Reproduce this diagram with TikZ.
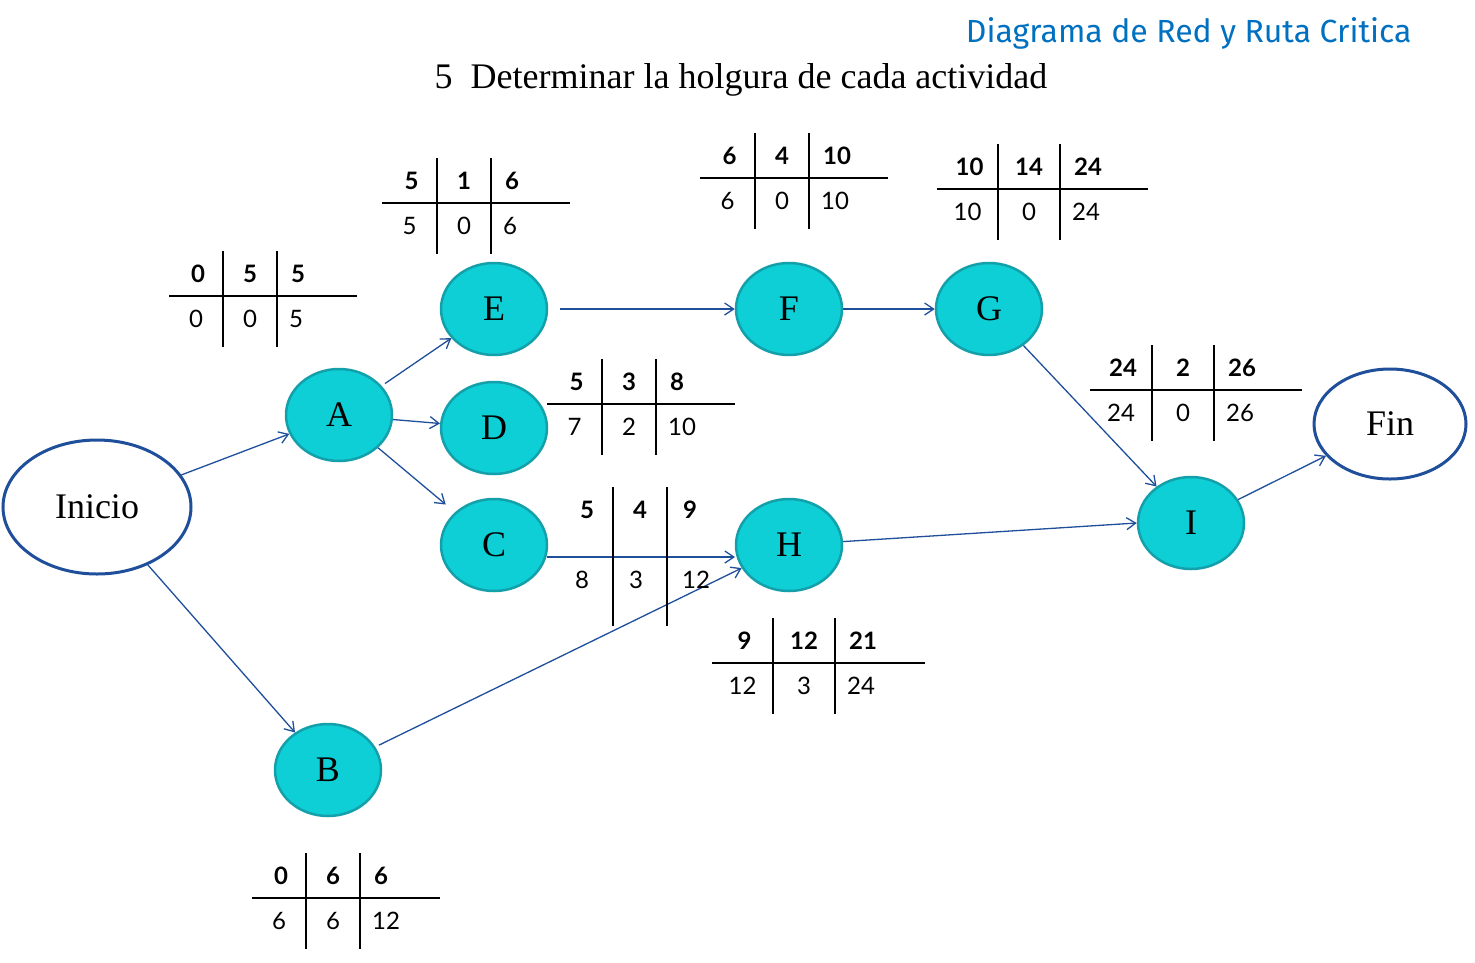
\documentclass[tikz,border=0pt]{standalone}
\usepackage{fontspec}
\setmainfont{Liberation Serif}
\newfontfamily\numfont{Lato}
\newfontfamily\titfont{Fira Sans}
\usetikzlibrary{shapes.geometric,arrows.meta}
\definecolor{nodefill}{RGB}{14,206,214}
\definecolor{nodeline}{RGB}{20,160,170}
\definecolor{arrowc}{RGB}{31,78,155}
\definecolor{titc}{RGB}{0,112,192}
\tikzset{
 act/.style={ellipse,fill=nodefill,draw=nodeline,line width=2.5pt,minimum width=106pt,minimum height=92pt,inner sep=0,font=\fontsize{36}{40}\selectfont},
 term/.style={ellipse,fill=white,draw=arrowc,line width=3pt,inner sep=0,font=\fontsize{36}{40}\selectfont},
 con/.style={draw=arrowc,line width=1.3pt,-{Straight Barb[length=9pt,width=12pt]}},
 tl/.style={line width=1.3pt},
 num/.style={font=\numfont\fontsize{24}{26}\selectfont,inner sep=0},
 bnum/.style={num,font=\numfont\bfseries\fontsize{24}{26}\selectfont}
}
% name, L, hy, v1, v2, R, a,b,c, d,e,f
\newcommand{\tbl}[9]{%
 \draw[tl] (#2,#3) -- (#6,#3);
 \draw[tl] (#4,#3-45) -- (#4,#3+51);
 \draw[tl] (#5,#3-45) -- (#5,#3+51);
 \tblrow{#1}{#2}{#3}{#4}{#5}{#7}{#8}{#9}}
\newcommand{\tblrow}[8]{%
 \node[bnum] (#1a) at ({(#2+#4)/2+2},#3-22) {#6};
 \node[bnum] (#1b) at ({(#4+#5)/2},#3-22) {#7};
 \node[bnum,anchor=west] (#1c) at (#5+14,#3-22) {#8};
 \tblbot{#1}{#2}{#3}{#4}{#5}}
\newcommand{\tblbot}[5]{\def\tn{#1}\def\tL{#2}\def\thy{#3}\def\tva{#4}\def\tvb{#5}\tblbotb}
\newcommand{\tblbotb}[3]{%
 \node[num] (\tn d) at ({(\tL+\tva)/2},\thy+23) {#1};
 \node[num] (\tn e) at ({(\tva+\tvb)/2},\thy+23) {#2};
 \node[num,anchor=west] (\tn f) at (\tvb+12,\thy+23) {#3};}
\begin{document}
\begin{tikzpicture}[x=1pt,y=-1pt]
\useasboundingbox (0,0) rectangle (1475,962);
\node[font=\titfont\fontsize{32}{34}\selectfont,text=titc,anchor=east] (tit) at (1415,33) {Diagrama de Red y Ruta Critica};
\node[font=\fontsize{36}{40}\selectfont] (sub) at (741,80) {5\ \ Determinar la holgura de cada actividad};
\node[term,minimum width=188pt,minimum height=134pt] (ini) at (97,507) {Inicio};
\node[term,minimum width=152pt,minimum height=110pt] (fin) at (1390,424) {Fin};
\node[act] (A) at (339,415) {A};
\node[act] (E) at (494,309) {E};
\node[act] (D) at (494,428) {D};
\node[act] (C) at (494,545) {C};
\node[act] (F) at (789,309) {F};
\node[act] (G) at (989,309) {G};
\node[act] (H) at (789,545) {H};
\node[act] (I) at (1191,523) {I};
\node[act] (B) at (328,770) {B};
\coordinate (ca1) at (547,557);
\coordinate (ca2) at (735,557);
\draw[con] (ini) -- (A);
\draw[con] (ini) -- (B);
\draw[con,shorten <=4pt] (A) -- (E);
\draw[con] (A) -- (D);
\draw[con,shorten >=12pt] (A) -- (C);
\draw[con,shorten <=12pt] (E) -- (F);
\draw[con] (F) -- (G);
\draw[con] (G) -- (I);
\draw[con] (ca1) -- (ca2);
\draw[con,shorten <=4pt] (B) -- (H);
\draw[con] (H) -- (I.west);
\draw[con] (I) -- (fin);
\tbl{tA}{169}{296}{223}{277}{357}{0}{5}{5}{0}{0}{5}
\tbl{tE}{382}{203}{437}{491}{570}{5}{1}{6}{5}{0}{6}
\tbl{tF}{700}{178}{755}{809}{888}{6}{4}{10}{6}{0}{10}
\tbl{tG}{937}{189}{998}{1060}{1148}{10}{14}{24}{10}{0}{24}
\tbl{tD}{547}{404}{602}{656}{735}{5}{3}{8}{7}{2}{10}
\tbl{tH}{712}{663}{773}{835}{925}{9}{12}{21}{12}{3}{24}
\tbl{tI}{1090}{390}{1152}{1214}{1302}{24}{2}{26}{24}{0}{26}
\tbl{tB}{252}{898}{306}{360}{440}{0}{6}{6}{6}{6}{12}
% C table (horizontal line is the C->H arrow)
\draw[tl] (613,487) -- (613,626);
\draw[tl] (667,487) -- (667,626);
\node[bnum] (tCa) at (587,510) {5};
\node[bnum] (tCb) at (640,510) {4};
\node[bnum] (tCc) at (690,510) {9};
\node[num] (tCd) at (582,580) {8};
\node[num] (tCe) at (636,580) {3};
\node[num] (tCf) at (696,580) {12};
\end{tikzpicture}
\end{document}
